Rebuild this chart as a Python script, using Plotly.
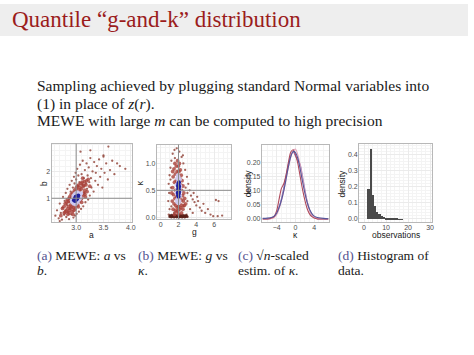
import plotly.graph_objects as go

W, H = 474, 355

# ---------------- data ----------------
# panel (a): MEWE estimates a vs b
A_TRUE, B_TRUE = 3.0, 1.0
A_OUT_A = [2.62,2.65,2.68,2.70,2.72,2.74,2.75,2.76,2.78,2.79,2.80,2.81,2.82,2.83,2.84,2.85,2.86,2.87,2.88,2.89,2.90,2.91,2.92,2.93,2.94,2.95,2.96,2.97,2.98,2.99,3.00,3.01,3.02,3.03,3.04,3.05,3.06,3.07,3.08,3.09,3.10,3.11,3.12,3.13,3.14,3.15,3.16,3.17,3.18,3.19,3.20,3.21,3.22,3.23,3.24,3.25,3.26,3.27,3.28,3.30,3.32,3.33,3.35,3.36,3.38,3.40,3.42,3.44,3.46,3.48,3.50,3.52,3.55,3.58,3.62,3.66,3.70,3.75,3.80,3.90,3.59,3.26,3.08,3.50,2.70]
A_OUT_B = [0.35,0.55,0.25,0.80,0.45,0.20,0.65,1.05,0.38,0.90,0.55,1.20,0.30,0.75,1.35,0.48,1.00,0.22,1.50,0.62,1.25,0.40,1.65,0.85,1.40,0.28,1.80,1.55,0.35,1.95,1.70,0.42,2.10,1.45,1.85,0.50,1.60,2.25,1.30,0.60,1.90,1.50,2.40,0.70,1.75,1.20,2.05,0.85,1.55,2.30,1.35,1.85,0.95,2.15,1.60,1.10,2.50,1.75,1.40,2.00,1.25,2.35,1.65,1.95,2.20,1.50,2.45,1.80,2.10,1.40,2.60,1.95,2.30,1.70,2.05,2.40,1.90,2.30,2.20,2.10,2.93,2.79,2.74,2.55,0.15]
A_MID_A = [2.72,2.75,2.78,2.80,2.82,2.84,2.85,2.86,2.88,2.88,2.90,2.90,2.91,2.92,2.93,2.94,2.95,2.95,2.96,2.97,2.98,2.99,3.00,3.00,3.01,3.02,3.03,3.04,3.05,3.05,3.06,3.07,3.08,3.09,3.10,3.10,3.11,3.12,3.13,3.14,3.15,3.16,3.18,3.20,3.22,3.25,2.80,2.83,2.87,2.89,2.92,2.96,3.02,3.06,3.10,3.14,3.17,3.19,2.86,2.94,3.04,3.12,2.78,2.84,2.90,2.98,3.08,3.16]
A_MID_B = [0.35,0.62,0.45,0.80,0.52,0.95,0.40,0.70,1.05,0.55,0.98,0.62,1.15,0.70,0.50,1.20,0.65,1.05,0.78,1.30,0.60,1.25,0.72,1.38,0.82,1.45,0.75,1.32,0.88,1.50,0.90,1.40,0.95,1.55,1.00,1.35,1.60,1.10,1.45,1.20,1.62,1.30,1.50,1.25,1.70,1.45,0.48,0.85,0.45,0.90,1.02,0.55,1.18,1.25,0.85,1.48,1.05,1.65,0.88,0.40,0.68,1.75,0.70,0.60,0.75,0.82,1.12,1.15]
A_HALO_A = [2.93,2.94,2.95,2.95,2.96,2.97,2.97,2.98,2.99,3.00,3.00,3.01,3.02,3.03,3.03,3.04,3.05,3.06,3.07,3.08,2.92,3.09]
A_HALO_B = [0.85,0.98,0.80,1.08,0.90,1.15,0.84,1.02,0.78,1.20,0.88,1.10,0.92,1.22,0.86,1.05,1.16,0.95,1.12,1.02,0.92,1.18]
A_CORE_A = [2.97,2.98,2.99,2.99,3.00,3.00,3.01,3.01,3.02,3.02,3.03,2.98,3.04,2.96]
A_CORE_B = [0.95,1.00,0.92,1.06,0.98,1.04,0.96,1.02,1.08,0.99,1.03,0.90,1.10,0.93]

# panel (b): MEWE estimates g vs kappa
G_TRUE, K_TRUE = 2.0, 0.5
B_OUT_G = [0.9,1.0,0.85,0.95,0.9,1.0,1.1,1.2,1.35,1.55,1.8,2.1,2.35,2.55,2.75,2.95,3.1,3.25,3.4,3.6,3.8,4.0,4.2,4.4,4.6,4.8,5.0,5.3,5.6,5.9,6.2,6.5,6.9,6.4,3.3,3.6,3.0,2.9,1.2,1.15,1.1,2.8,3.0,2.6,3.7,4.1,1.6,2.5,2.2,1.5]
B_OUT_K = [0.05,0.15,0.3,0.45,0.62,0.78,0.92,1.05,1.18,1.25,1.28,1.22,1.12,1.0,0.88,0.75,0.62,0.5,0.4,0.33,0.28,0.22,0.3,0.18,0.12,0.25,0.08,0.15,0.05,0.02,0.32,0.3,0.03,0.02,0.15,0.08,0.3,0.05,0.2,0.55,0.7,0.55,0.45,0.2,0.45,0.38,1.1,1.15,0.05,0.08]
B_BAND_G = [1.0,1.1,1.2,1.3,1.4,1.5,1.6,1.7,1.8,1.9,2.0,2.1,2.2,2.3,2.4,2.5,2.6,2.7,2.8,2.9,3.0,1.05,1.25,1.45,1.65,1.85,2.05,2.25,2.45,2.65,2.85]
B_BAND_K = [0.01,0.02,0.00,0.01,0.02,0.00,0.01,0.02,0.00,0.01,0.02,0.00,0.01,0.02,0.00,0.01,0.02,0.00,0.01,0.02,0.01,0.03,0.04,0.03,0.04,0.03,0.04,0.03,0.04,0.03,0.03]
B_MID_G = [1.3,1.35,1.4,1.4,1.45,1.5,1.5,1.55,1.6,1.6,1.65,1.65,1.7,1.7,1.75,1.75,1.8,1.8,1.85,1.85,1.9,1.9,1.95,1.95,2.0,2.0,2.05,2.05,2.1,2.1,2.15,2.15,2.2,2.2,2.25,2.25,2.3,2.3,2.35,2.4,2.4,2.45,2.5,2.5,2.55,2.6,2.65,2.7,1.25,1.35,2.8,1.55,2.0,2.35]
B_MID_K = [0.30,0.55,0.75,0.15,0.42,0.90,0.25,0.65,0.35,1.0,0.12,0.80,0.50,0.22,0.95,0.68,0.10,0.38,0.85,0.18,1.05,0.28,0.78,0.12,0.95,0.20,0.85,0.30,1.0,0.15,0.72,0.25,0.88,0.40,0.60,0.18,0.78,0.32,0.50,0.68,0.22,0.40,0.58,0.15,0.30,0.45,0.22,0.35,0.45,0.85,0.25,0.05,0.06,0.08]
B_HALO_G = [1.78,1.8,1.82,1.85,1.88,1.9,1.92,1.95,1.98,2.0,2.02,2.05,2.08,2.1,2.12,2.15,2.18,2.2,2.22,1.85]
B_HALO_K = [0.45,0.60,0.32,0.72,0.28,0.52,0.78,0.38,0.66,0.26,0.74,0.42,0.62,0.30,0.55,0.70,0.40,0.58,0.48,0.48]
B_CORE_G = [1.92,1.94,1.96,1.97,1.98,2.0,2.0,2.01,2.02,2.03,2.04,2.06,2.07,1.99,2.05]
B_CORE_K = [0.45,0.58,0.40,0.52,0.62,0.48,0.55,0.38,0.60,0.44,0.52,0.47,0.57,0.42,0.65]

# panel (c): sqrt(n)-scaled estimates of kappa, densities
KAPPA_GRID = [-7,-6,-5,-4.5,-4,-3.5,-3,-2.5,-2,-1.5,-1,-0.5,0,0.5,1,1.5,2,2.5,3,3.5,4,4.5,5,6,7]
DENS_1 = [0.002,0.003,0.006,0.011,0.021,0.040,0.066,0.100,0.142,0.185,0.220,0.238,0.234,0.214,0.176,0.132,0.092,0.058,0.034,0.019,0.010,0.006,0.004,0.002,0.001]
DENS_2 = [0,0,0.004,0.010,0.030,0.070,0.108,0.124,0.156,0.200,0.236,0.244,0.226,0.196,0.150,0.104,0.066,0.036,0.018,0.008,0.003,0.001,0,0,0]
DENS_3 = [0,0,0.002,0.006,0.016,0.036,0.064,0.098,0.140,0.182,0.218,0.240,0.246,0.226,0.190,0.142,0.098,0.060,0.032,0.015,0.006,0.002,0,0,0]
DENS_4 = [0,0,0.003,0.008,0.020,0.042,0.072,0.110,0.152,0.194,0.224,0.236,0.222,0.206,0.192,0.150,0.104,0.062,0.032,0.014,0.005,0.002,0,0,0]
DENS_COLORS = ["#55569a", "#b04a5c", "#e6aabd", "#8c72b4"]

# panel (d): histogram of data
HIST_CENTERS = [2,3,4,5,6,7,8,9,10,11,12,13,14,15,16,17]
HIST_DENSITY = [0.19,0.44,0.15,0.08,0.045,0.03,0.02,0.013,0.009,0.006,0.004,0.003,0.002,0.002,0.001,0.001]

TITLE = "Quantile “g-and-k” distribution"
BODY = ["Sampling achieved by plugging standard Normal variables into",
        "(1) in place of <i>z</i>(<i>r</i>).",
        "MEWE with large <i>m</i> can be computed to high precision"]
CAP_COLOR = "#52528f"
CAPTIONS = [
    ("(a)", " MEWE: <i>a</i> vs", "<i>b</i>."),
    ("(b)", " MEWE: <i>g</i> vs", "<i>κ</i>."),
    ("(c)", " √<i>n</i>-scaled", "estim. of <i>κ</i>."),
    ("(d)", " Histogram of", "data."),
]
AXIS_TITLES = [  # text, x px, y px, angle
    ("a", 92, 236, 0), ("b", 45, 184, -90),
    ("g", 196, 233, 0), ("κ", 142, 183, -90),
    ("κ", 298, 236, 0), ("density", 251, 184, -90),
    ("observations", 399, 236, 0), ("density", 345, 184, -90),
]

# ---------------- layout helpers ----------------
def fx(p): return p / W
def fy(p): return 1 - p / H

BOXES = {  # pixel boxes of the four panels: x0, x1, ytop, ybottom
    1: (52, 133, 144, 223),
    2: (158, 233, 145, 220),
    3: (264, 332, 145, 223),
    4: (362, 436, 144, 223),
}

SERIF = "Liberation Serif"
SANS = "Liberation Sans"
GRID = "#ebebeb"
MINOR = "#f4f4f4"
BORDER = "#b8b8b8"
TICKF = dict(family=SANS, size=7, color="#4d4d4d")
TITF = dict(family=SANS, size=8.5, color="#1a1a1a")

fig = go.Figure()

def ax_common(i, axtype):
    x0, x1, yt, yb = BOXES[i]
    dom = [fx(x0), fx(x1)] if axtype == "x" else [fy(yb), fy(yt)]
    return dict(domain=dom, showgrid=True, gridcolor=GRID, gridwidth=0.8,
                minor=dict(showgrid=True, gridcolor=MINOR, gridwidth=0.5),
                showline=True, mirror=True, linecolor=BORDER, linewidth=0.8,
                ticks="", tickfont=TICKF, ticklabelstandoff=(-2 if axtype == "x" else -1),
                zeroline=False)

def sc(x, y, color, size, i, opacity=1.0):
    xa = "x" if i == 1 else f"x{i}"
    ya = "y" if i == 1 else f"y{i}"
    fig.add_trace(go.Scatter(x=x, y=y, mode="markers", xaxis=xa, yaxis=ya,
                             marker=dict(color=color, size=size, opacity=opacity, line=dict(width=0)),
                             showlegend=False, hoverinfo="skip"))

# panel a
sc(A_OUT_A, A_OUT_B, "#8e3f33", 2.3, 1, 0.8)
sc(A_MID_A, A_MID_B, "#a9413a", 3.8, 1, 0.8)
sc(A_HALO_A, A_HALO_B, "#cfcaef", 4.2, 1, 0.95)
sc(A_CORE_A, A_CORE_B, "#1f1f9c", 4, 1, 1.0)
# panel b
sc(B_OUT_G, B_OUT_K, "#8e3f33", 2.3, 2, 0.8)
sc(B_BAND_G, B_BAND_K, "#5a2018", 2.6, 2, 0.9)
sc(B_MID_G, B_MID_K, "#a9413a", 3.8, 2, 0.8)
sc(B_HALO_G, B_HALO_K, "#cfcaef", 4.2, 2, 0.95)
sc(B_CORE_G, B_CORE_K, "#1f1f9c", 4, 2, 1.0)

# panel c
for dens, col in zip([DENS_4, DENS_3, DENS_2, DENS_1], [DENS_COLORS[3], DENS_COLORS[2], DENS_COLORS[1], DENS_COLORS[0]]):
    fig.add_trace(go.Scatter(x=KAPPA_GRID, y=dens, mode="lines", xaxis="x3", yaxis="y3",
                             line=dict(color=col, width=1.1, shape="spline", smoothing=0.8),
                             showlegend=False, hoverinfo="skip"))

# panel d
fig.add_trace(go.Bar(x=HIST_CENTERS, y=HIST_DENSITY, width=1, xaxis="x4", yaxis="y4",
                     marker=dict(color="#4a4a4a", line=dict(width=0)), showlegend=False,
                     hoverinfo="skip"))

layout = dict(width=W, height=H, margin=dict(l=0, r=0, t=0, b=0),
              paper_bgcolor="white", plot_bgcolor="white", bargap=0)

xa1 = ax_common(1, "x"); xa1.update(range=[2.55, 4.02], tickvals=[3.0, 3.5, 4.0], ticktext=["3.0", "3.5", "4.0"], anchor="y")
ya1 = ax_common(1, "y"); ya1.update(range=[0.1, 3.04], tickvals=[1, 2], anchor="x")
xa2 = ax_common(2, "x"); xa2.update(range=[-0.45, 7.9], tickvals=[0, 2, 4, 6], anchor="y2")
ya2 = ax_common(2, "y"); ya2.update(range=[-0.04, 1.35], tickvals=[0, 0.5, 1.0], ticktext=["0.0", "0.5", "1.0"], anchor="x2")
xa3 = ax_common(3, "x"); xa3.update(range=[-7.2, 7.2], tickvals=[-4, 0, 4], anchor="y3")
ya3 = ax_common(3, "y"); ya3.update(range=[-0.012, 0.262], tickvals=[0, 0.05, 0.1, 0.15, 0.2], tickformat=".2f", anchor="x3")
xa4 = ax_common(4, "x"); xa4.update(range=[-2.3, 31], tickvals=[0, 10, 20, 30], anchor="y4")
ya4 = ax_common(4, "y"); ya4.update(range=[-0.022, 0.47], tickvals=[0, 0.1, 0.2, 0.3, 0.4], tickformat=".1f", anchor="x4")
layout.update(xaxis=xa1, yaxis=ya1, xaxis2=xa2, yaxis2=ya2, xaxis3=xa3, yaxis3=ya3, xaxis4=xa4, yaxis4=ya4)

shapes = [
    dict(type="rect", xref="paper", yref="paper", x0=0, x1=fx(472), y0=fy(36), y1=fy(4),
         fillcolor="#eeeeee", line=dict(width=0), layer="below"),
    dict(type="line", xref="x", yref="y domain", x0=A_TRUE, x1=A_TRUE, y0=0, y1=1, line=dict(color="#8c8c8c", width=1)),
    dict(type="line", xref="x domain", yref="y", x0=0, x1=1, y0=B_TRUE, y1=B_TRUE, line=dict(color="#8c8c8c", width=1)),
    dict(type="line", xref="x2", yref="y2 domain", x0=G_TRUE, x1=G_TRUE, y0=0, y1=1, line=dict(color="#8c8c8c", width=1)),
    dict(type="line", xref="x2 domain", yref="y2", x0=0, x1=1, y0=K_TRUE, y1=K_TRUE, line=dict(color="#8c8c8c", width=1)),
]
layout["shapes"] = shapes

ann = []
ann.append(dict(text=TITLE, x=fx(10), y=fy(20), xref="paper", yref="paper", xanchor="left", yanchor="middle",
                showarrow=False, font=dict(family=SERIF, size=23, color="#9b1c1c")))
for line, ypx in zip(BODY, [86, 104, 121]):
    ann.append(dict(text=line, x=fx(35), y=fy(ypx), xref="paper", yref="paper", xanchor="left", yanchor="middle",
                    showarrow=False, font=dict(family=SERIF, size=15.5, color="#1a1a1a")))
for (lab, rest, second), xp in zip(CAPTIONS, [35, 137, 238, 339]):
    ann.append(dict(text=f"<span style='color:{CAP_COLOR}'>{lab}</span>{rest}", x=fx(xp), y=fy(256),
                    xref="paper", yref="paper", xanchor="left", yanchor="middle", showarrow=False,
                    font=dict(family=SERIF, size=13.5, color="#1a1a1a")))
    ann.append(dict(text=second, x=fx(xp), y=fy(271), xref="paper", yref="paper", xanchor="left", yanchor="middle",
                    showarrow=False, font=dict(family=SERIF, size=13.5, color="#1a1a1a")))
for txt, xp, yp, ang in AXIS_TITLES:
    ann.append(dict(text=txt, x=fx(xp), y=fy(yp), xref="paper", yref="paper", xanchor="center", yanchor="middle",
                    textangle=ang, showarrow=False, font=TITF))
layout["annotations"] = ann

fig.update_layout(**layout)
fig.write_html("out.html", config={"displayModeBar": False},
               post_script="document.body.style.margin='0';document.body.style.overflow='hidden';")
